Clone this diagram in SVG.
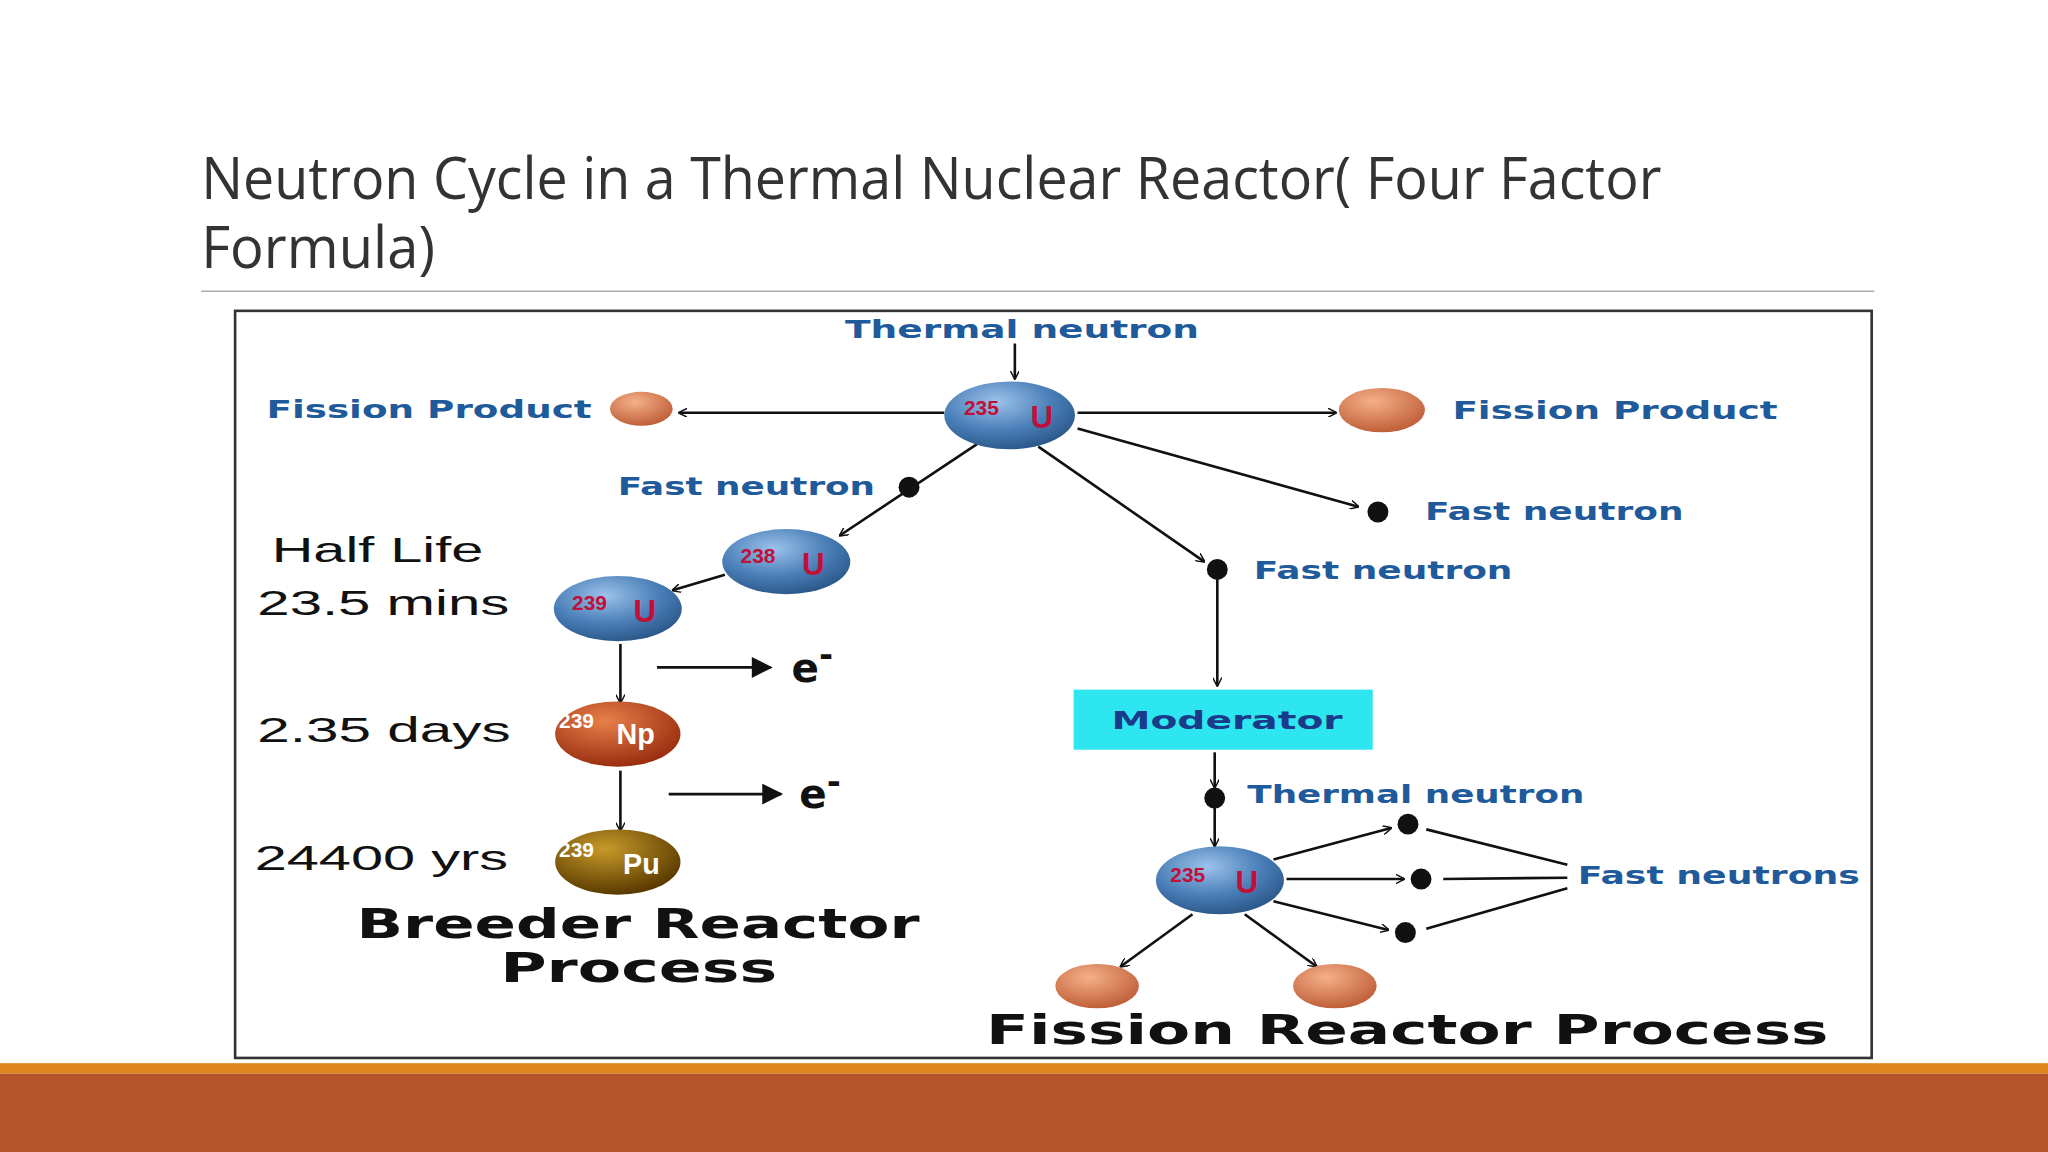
<svg xmlns="http://www.w3.org/2000/svg" width="2048" height="1152" viewBox="0 0 2048 1152">
<defs>
<radialGradient id="gb" cx="40%" cy="30%" r="70%"><stop offset="0" stop-color="#9cc2ea"/><stop offset="0.6" stop-color="#4a7fb8"/><stop offset="1" stop-color="#2d5a8c"/></radialGradient>
<radialGradient id="go" cx="40%" cy="30%" r="70%"><stop offset="0" stop-color="#f5b088"/><stop offset="1" stop-color="#c0603a"/></radialGradient>
<radialGradient id="gn" cx="40%" cy="30%" r="70%"><stop offset="0" stop-color="#e8804a"/><stop offset="1" stop-color="#9a2e10"/></radialGradient>
<radialGradient id="gp" cx="40%" cy="30%" r="70%"><stop offset="0" stop-color="#c89a2a"/><stop offset="1" stop-color="#5a3a00"/></radialGradient>
<marker id="ar" viewBox="0 0 10 10" refX="9" refY="5" markerWidth="7" markerHeight="7" orient="auto" markerUnits="userSpaceOnUse"><path d="M0,0 L10,5 L0,10" fill="none" stroke="#111" stroke-width="1.6"/></marker>
<marker id="af" viewBox="0 0 10 10" refX="9" refY="5" markerWidth="22" markerHeight="16" orient="auto" markerUnits="userSpaceOnUse"><path d="M0,0 L10,5 L0,10 z" fill="#111"/></marker>
<style>
.bl{font-family:"DejaVu Sans",sans-serif;font-weight:bold;fill:#1f5a9a;font-size:19px}
.hl{font-family:"Liberation Sans",sans-serif;fill:#111;font-size:27px}
.big{font-family:"DejaVu Sans",sans-serif;font-weight:bold;fill:#111;font-size:31px}
.ln{stroke:#111;stroke-width:2;fill:none}
.sm{font-family:"Liberation Sans",sans-serif;font-weight:bold;fill:#c0103a;font-size:16px}
.su{font-family:"Liberation Sans",sans-serif;font-weight:bold;fill:#c0103a;font-size:24px}
.sw{font-family:"Liberation Sans",sans-serif;font-weight:bold;fill:#fff;font-size:16px}
.sW{font-family:"Liberation Sans",sans-serif;font-weight:bold;fill:#fff;font-size:22px}
.ti{font-family:"Open Sans",sans-serif;font-size:45px;fill:#333}
</style>
</defs>
<rect width="2048" height="1152" fill="#fff"/>
<g transform="scale(1.30612)">
<text class="ti" x="154" y="152" textLength="1118" lengthAdjust="spacingAndGlyphs">Neutron Cycle in a Thermal Nuclear Reactor( Four Factor</text>
<text class="ti" x="154" y="205" textLength="179" lengthAdjust="spacingAndGlyphs">Formula)</text>
<line x1="154" y1="223" x2="1435" y2="223" stroke="#aaa" stroke-width="1.2"/>
<rect x="180" y="238" width="1253" height="572" fill="#fff" stroke="#333" stroke-width="2"/>
<rect x="0" y="814" width="1568" height="8" fill="#e0861e"/>
<rect x="0" y="822" width="1568" height="60" fill="#b5552a"/>

<g id="connectors">
<line class="ln" x1="777" y1="263" x2="777" y2="290" marker-end="url(#ar)"/>
<line class="ln" x1="723" y1="316" x2="520" y2="316" marker-end="url(#ar)"/>
<line class="ln" x1="825" y1="316" x2="1023" y2="316" marker-end="url(#ar)"/>
<line class="ln" x1="748" y1="340" x2="643" y2="410" marker-end="url(#ar)"/>
<line class="ln" x1="825" y1="328" x2="1040" y2="388" marker-end="url(#ar)"/>
<line class="ln" x1="795" y1="342" x2="922" y2="430" marker-end="url(#ar)"/>
<line class="ln" x1="932" y1="440" x2="932" y2="525" marker-end="url(#ar)"/>
<line class="ln" x1="930" y1="576" x2="930" y2="603" marker-end="url(#ar)"/>
<line class="ln" x1="930" y1="617" x2="930" y2="648" marker-end="url(#ar)"/>
<line class="ln" x1="975" y1="658" x2="1065" y2="634" marker-end="url(#ar)"/>
<line class="ln" x1="985" y1="673" x2="1075" y2="673" marker-end="url(#ar)"/>
<line class="ln" x1="975" y1="690" x2="1063" y2="712" marker-end="url(#ar)"/>
<line class="ln" x1="1092" y1="635" x2="1200" y2="662" stroke-width="1.5"/>
<line class="ln" x1="1105" y1="673" x2="1200" y2="672" stroke-width="1.5"/>
<line class="ln" x1="1092" y1="711" x2="1200" y2="680" stroke-width="1.5"/>
<line class="ln" x1="913" y1="700" x2="858" y2="740" marker-end="url(#ar)"/>
<line class="ln" x1="953" y1="700" x2="1008" y2="740" marker-end="url(#ar)"/>
<line class="ln" x1="555" y1="440" x2="515" y2="452" marker-end="url(#ar)"/>
<line class="ln" x1="475" y1="493" x2="475" y2="538" marker-end="url(#ar)"/>
<line class="ln" x1="475" y1="590" x2="475" y2="636" marker-end="url(#ar)"/>
<line class="ln" x1="503" y1="511" x2="590" y2="511" stroke-width="3" marker-end="url(#af)"/>
<line class="ln" x1="512" y1="608" x2="598" y2="608" stroke-width="3" marker-end="url(#af)"/>
</g>

<g id="n-thermal-top"><text class="bl" x="647" y="259" textLength="271" lengthAdjust="spacingAndGlyphs">Thermal neutron</text></g>
<g id="n-u235-top"><ellipse cx="773" cy="318" rx="50" ry="26" fill="url(#gb)"/><text class="sm" x="738" y="318">235</text><text class="su" x="789" y="328">U</text></g>
<g id="n-fp-left"><text class="bl" x="204" y="320" textLength="249" lengthAdjust="spacingAndGlyphs">Fission Product</text><ellipse cx="491" cy="313" rx="24" ry="13" fill="url(#go)"/></g>
<g id="n-fp-right"><ellipse cx="1058" cy="314" rx="33" ry="17" fill="url(#go)"/><text class="bl" x="1112" y="321" textLength="249" lengthAdjust="spacingAndGlyphs">Fission Product</text></g>
<g id="n-fn1"><circle cx="696" cy="373" r="8" fill="#111"/><text class="bl" x="473" y="379" textLength="197" lengthAdjust="spacingAndGlyphs">Fast neutron</text></g>
<g id="n-fn2"><circle cx="1055" cy="392" r="8" fill="#111"/><text class="bl" x="1091" y="398" textLength="198" lengthAdjust="spacingAndGlyphs">Fast neutron</text></g>
<g id="n-fn3"><circle cx="932" cy="436" r="8" fill="#111"/><text class="bl" x="960" y="443" textLength="198" lengthAdjust="spacingAndGlyphs">Fast neutron</text></g>
<g id="n-moderator"><rect x="822" y="528" width="229" height="46" fill="#2ee6f0"/><text class="bl" x="851" y="558" textLength="177" lengthAdjust="spacingAndGlyphs" style="fill:#1a3a8a">Moderator</text></g>
<g id="n-thermal2"><circle cx="930" cy="611" r="8" fill="#111"/><text class="bl" x="955" y="615" textLength="258" lengthAdjust="spacingAndGlyphs">Thermal neutron</text></g>
<g id="n-u235-bot"><ellipse cx="934" cy="674" rx="49" ry="26" fill="url(#gb)"/><text class="sm" x="896" y="675">235</text><text class="su" x="946" y="684">U</text></g>
<g id="n-fns"><circle cx="1078" cy="631" r="8" fill="#111"/><circle cx="1088" cy="673" r="8" fill="#111"/><circle cx="1076" cy="714" r="8" fill="#111"/><text class="bl" x="1208" y="677" textLength="216" lengthAdjust="spacingAndGlyphs">Fast neutrons</text></g>
<g id="n-fp-bot"><ellipse cx="840" cy="755" rx="32" ry="17" fill="url(#go)"/><ellipse cx="1022" cy="755" rx="32" ry="17" fill="url(#go)"/></g>
<g id="n-frp"><text class="big" x="755" y="799" textLength="645" lengthAdjust="spacingAndGlyphs">Fission Reactor Process</text></g>
<g id="n-u238"><ellipse cx="602" cy="430" rx="49" ry="25" fill="url(#gb)"/><text class="sm" x="567" y="431">238</text><text class="su" x="614" y="440">U</text></g>
<g id="n-u239"><ellipse cx="473" cy="466" rx="49" ry="25" fill="url(#gb)"/><text class="sm" x="438" y="467">239</text><text class="su" x="485" y="476">U</text></g>
<g id="n-np"><ellipse cx="473" cy="562" rx="48" ry="25" fill="url(#gn)"/><text class="sw" x="428" y="557">239</text><text class="sW" x="472" y="570">Np</text></g>
<g id="n-pu"><ellipse cx="473" cy="660" rx="48" ry="25" fill="url(#gp)"/><text class="sw" x="428" y="656">239</text><text class="sW" x="477" y="669">Pu</text></g>
<g id="n-e1"><text class="big" x="606" y="522">e<tspan dy="-12" font-size="26">-</tspan></text></g>
<g id="n-e2"><text class="big" x="612" y="619">e<tspan dy="-12" font-size="26">-</tspan></text></g>
<g id="n-halflife">
<text class="hl" x="208" y="430" textLength="162" lengthAdjust="spacingAndGlyphs">Half Life</text>
<text class="hl" x="197" y="471" textLength="193" lengthAdjust="spacingAndGlyphs">23.5 mins</text>
<text class="hl" x="197" y="568" textLength="194" lengthAdjust="spacingAndGlyphs">2.35 days</text>
<text class="hl" x="195" y="666" textLength="194" lengthAdjust="spacingAndGlyphs">24400 yrs</text>
</g>
<g id="n-brp"><text class="big" x="273" y="718" textLength="431" lengthAdjust="spacingAndGlyphs">Breeder Reactor</text><text class="big" x="383" y="752" textLength="212" lengthAdjust="spacingAndGlyphs">Process</text></g>
</g>
</svg>
